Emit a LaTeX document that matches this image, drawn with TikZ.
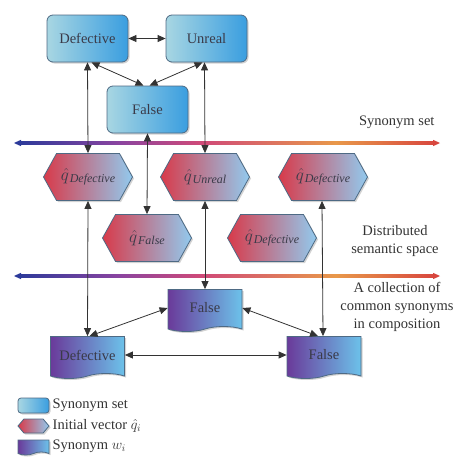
\documentclass[tikz,border=0pt]{standalone}
\usepackage{fontspec}
\setmainfont{Liberation Serif}
\usetikzlibrary{arrows.meta,shapes.symbols,shadows}
\definecolor{ssL}{HTML}{A8D6E2}
\definecolor{ssR}{HTML}{3A9EE0}
\definecolor{hxL}{HTML}{D83A4A}
\definecolor{hxR}{HTML}{92CAEE}
\definecolor{dcL}{HTML}{6A3A9A}
\definecolor{dcR}{HTML}{6CC2EA}
\definecolor{bordc}{HTML}{4E6A84}
\definecolor{txtc}{HTML}{3A3A48}
\definecolor{linec}{HTML}{333333}
\definecolor{rbA}{HTML}{2C3A9A}
\definecolor{rbB}{HTML}{8A44A0}
\definecolor{rbC}{HTML}{D04A78}
\definecolor{rbD}{HTML}{E8984A}
\definecolor{rbE}{HTML}{D8463E}
\pgfdeclarehorizontalshading{rainbow}{100bp}{color(0bp)=(rbA); color(25bp)=(rbA); color(37bp)=(rbB); color(47bp)=(rbC); color(63bp)=(rbD); color(75bp)=(rbE); color(100bp)=(rbE)}
\pgfdeclarelayer{background}
\pgfsetlayers{background,main}
\tikzset{
  basefont/.style={font=\fontsize{14.5}{18}\selectfont},
  shad/.style={drop shadow={opacity=0.35, shadow xshift=1.5pt, shadow yshift=-1.5pt}},
  synset/.style={basefont, text=txtc, draw=bordc, line width=0.8pt, rounded corners=6pt,
    left color=ssL, right color=ssR, minimum width=81pt, minimum height=47pt, shad},
  initvec/.style={basefont, text=txtc, draw=bordc, line width=0.8pt, signal, signal to=west and east,
    signal pointer angle=122, left color=hxL, right color=hxR, minimum width=89pt, minimum height=47pt,
    inner sep=0pt, shad},
  synword/.style={basefont, text=txtc, draw=bordc, line width=0.8pt, tape, tape bend top=none,
    tape bend bottom=in and out, tape bend height=5pt, left color=dcL, right color=dcR,
    minimum width=74pt, minimum height=42pt, shad},
  conn/.style={draw=linec, line width=0.8pt, {Triangle[length=8pt,width=7pt]}-{Triangle[length=8pt,width=7pt]}},
  lbl/.style={basefont, text=linec, align=center},
}
\newcommand{\qsub}[1]{{\fontsize{17}{18}\selectfont$\hat{q}$}\kern0.8pt\raisebox{-2.5pt}{\fontsize{12}{13}\selectfont\itshape #1}}
\begin{document}
\begin{tikzpicture}[x=1pt,y=-1pt]
\useasboundingbox (0,0) rectangle (474,474);
% top synonym set boxes
\node[synset] (sD) at (87.5,38.5) {Defective};
\node[synset] (sU) at (206.5,38.5) {Unreal};
\node[synset] (sF) at (147.5,109.5) {False};
% hexagons
\node[initvec] (qD1) at (88,177) {\qsub{Defective}};
\node[initvec] (qU) at (205,177) {\qsub{Unreal}};
\node[initvec] (qD3) at (323,177) {\qsub{Defective}};
\node[initvec] (qF) at (147,238) {\qsub{False}};
\node[initvec] (qD2) at (272,238) {\qsub{Defective}};
% synonym documents
\node[synword] (wF) at (205,308) {False};
\node[synword] (wD) at (87.5,355) {Defective};
\node[synword] (wF2) at (324,355) {False};
% labels
\node[lbl, anchor=east] (l1) at (438,122) {Synonym set};
\node[lbl] (l2) at (395,241) {Distributed\\semantic space};
\node[lbl] (l3) at (397,307) {A collection of\\common synonyms\\in composition};
% rainbow lines
\begin{pgfonlayer}{background}
\shade[shading=rainbow] (18,141.7) rectangle (436,144.3);
\fill[rbA] (14,143) -- (21,139.8) -- (21,146.2) -- cycle;
\fill[rbE] (440,143) -- (433,139.8) -- (433,146.2) -- cycle;
\shade[shading=rainbow] (18,274.7) rectangle (436,277.3);
\fill[rbA] (14,276) -- (21,272.8) -- (21,279.2) -- cycle;
\fill[rbE] (440,276) -- (433,272.8) -- (433,279.2) -- cycle;
\end{pgfonlayer}
% connectors
\draw[conn] (sD) -- (sU);
\draw[conn] ([xshift=4pt]sD.south) -- ([xshift=-4pt]sF.north);
\draw[conn] ([xshift=-4pt]sU.south) -- ([xshift=2pt]sF.north);
\draw[conn] (sD.south) -- (qD1.north);
\draw[conn] ([xshift=-2pt]sU.south) -- (qU.north);
\draw[conn] (sF.south) -- (qF.north);
\draw[conn] (qD1.south) -- (wD.north);
\draw[conn] (qU.south) -- (wF.north);
\draw[conn] ([xshift=-1pt]qD3.south) -- ([xshift=-1pt]wF2.north);
\draw[conn] (wF.west) -- ([xshift=2pt]wD.north);
\draw[conn] (wF.east) -- ([xshift=-6pt]wF2.north);
\draw[conn] (wD.east) -- (wF2.west);
% legend
\node[synset, minimum width=31pt, minimum height=15pt, rounded corners=3pt] (g1) at (33.5,405.5) {};
\node[lbl, anchor=west, inner sep=3pt] (g1t) at (g1.east) {Synonym set};
\node[initvec, minimum width=31pt, minimum height=14pt, signal pointer angle=100] (g2) at (33.5,426) {};
\node[lbl, anchor=west, inner sep=3pt] (g2t) at (g2.east) {Initial vector $\hat{q}_i$};
\node[synword, minimum width=31pt, minimum height=15pt, tape bend height=3pt] (g3) at (33.5,446) {};
\node[lbl, anchor=west, inner sep=3pt] (g3t) at (g3.east) {Synonym $w_i$};
\end{tikzpicture}
\end{document}
